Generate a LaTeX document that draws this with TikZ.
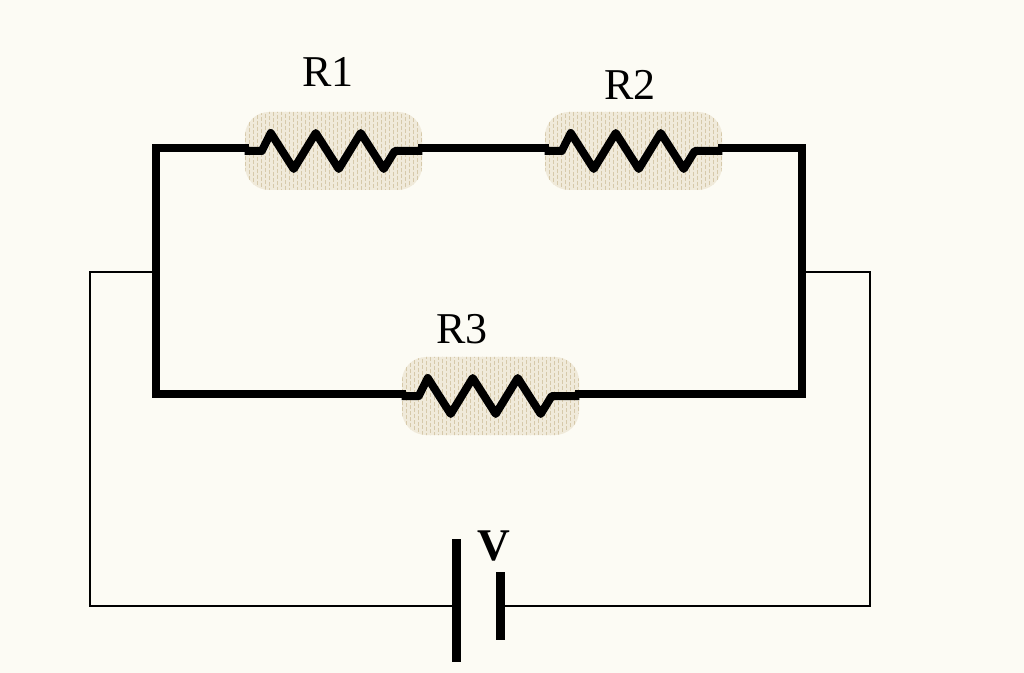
\documentclass[tikz,border=0pt]{standalone}
\usepackage{fontspec}
\setmainfont{Liberation Serif}
\usetikzlibrary{positioning,calc}
\definecolor{paper}{HTML}{FCFBF4}
\definecolor{bodytan}{HTML}{F0EADA}
\definecolor{stripetan}{HTML}{D6C9AA}
\begin{document}
\begin{tikzpicture}[
      x=0.75pt,y=-0.75pt,
      every node/.style={font=\fontsize{33}{36}\selectfont},
      resbody/.style={rectangle,rounded corners=18pt,minimum width=132.75pt,minimum height=58.5pt,inner sep=0pt,fill=bodytan,
        path picture={
          \foreach \i in {-24,...,24}
            \draw[stripetan,line width=1.1pt,dash pattern=on 3pt off 1.5pt]
              ($(path picture bounding box.center)+({4*\i},{-45-mod(7*abs(\i),5)})$) -- ++(0,90);
        }},
      wire/.style={line width=6.6pt,line join=miter,line cap=rect},
      zigzag/.style={line width=6pt,line join=round},
      lead/.style={line width=1.5pt,line join=miter},
      plate/.style={line width=6.6pt}
    ]

    \fill[paper] (0,0) rectangle (1024,673);
    \useasboundingbox (0,0) rectangle (1024,673);

    % the resistors
    \node[resbody] (r1) at (333.5,151) {};
    \node[resbody] (r2) at (633.5,151) {};
    \node[resbody] (r3) at (490.5,396) {};
    \node (r1label) at (328,72) {R1};
    \node (r2label) at (630,85) {R2};
    \node (r3label) at (462,329) {R3};

    % corners of the thick loop
    \coordinate (tl) at (156,148);
    \coordinate (tr) at (802,148);
    \coordinate (bl) at (156,394);
    \coordinate (br) at (802,394);

    % zigzags
    \foreach \r in {r1,r2,r3}
      \draw[zigzag] (\r.west) -- ++(17,0) -- ++(9,-18) -- ++(23,36) -- ++(22,-36)
        -- ++(23,36) -- ++(22,-36) -- ++(23,36) -- ++(11,-18) -- (\r.east);

    % the thick loop
    \draw[wire] (tl -| r1.west) -- (tl) -- (bl) -- (bl -| r3.west);
    \draw[wire] (r1.east |- tl) -- (tl -| r2.west);
    \draw[wire] (r2.east |- tr) -- (tr) -- (br) -- (r3.east |- br);

    % the battery
    \coordinate (pa) at (456.5,539);
    \coordinate (pb) at (456.5,662);
    \coordinate (pc) at (500.5,572);
    \coordinate (pd) at (500.5,640);
    \coordinate (lbat) at (456.5,606);
    \coordinate (rbat) at (500.5,606);
    \draw[plate] (pa) -- (pb);
    \draw[plate] (pc) -- (pd);
    \node[font=\fontsize{34}{36}\selectfont\bfseries] (vlabel) at (494,546) {V};

    % the thin wires
    \coordinate (lj) at (156,272);
    \coordinate (rj) at (802,272);
    \draw[lead] (lj) -- (90,272) -- (90,606) -- (lbat);
    \draw[lead] (rbat) -- (870,606) -- (870,272) -- (rj);
\end{tikzpicture}
\end{document}
